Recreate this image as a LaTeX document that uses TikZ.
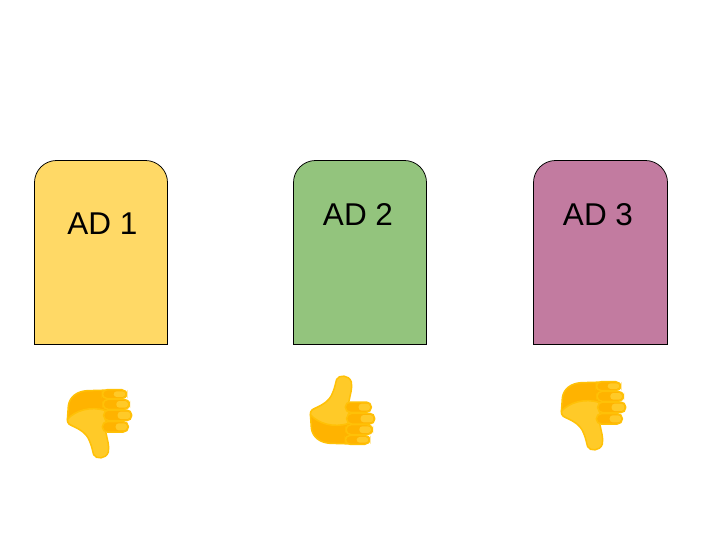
\documentclass[tikz,border=0pt]{standalone}
\usepackage{fontspec}
\setmainfont{Liberation Sans}
\usepackage{xcolor}
\definecolor{adyellow}{HTML}{FFD966}
\definecolor{adgreen}{HTML}{93C47D}
\definecolor{adpurple}{HTML}{C27BA0}
\definecolor{handlight}{HTML}{FFCA28}
\definecolor{handdark}{HTML}{FFB300}
\definecolor{handedge}{HTML}{FFC107}
\tikzset{
    ad-card/.style = {draw=black, line width=0.75pt},
    ad-label/.style = {font=\fontsize{31.5}{38}\selectfont, text=black, inner sep=0pt},
    hand-part/.style = {fill=handlight, draw=handedge, line width=1.5pt, line join=round},
    finger/.style = {fill=handdark, draw=handedge, line width=1.5pt, rounded corners=5pt},
    finger-tip/.style = {fill=handlight, rounded corners=3pt},
    thumb-up/.pic = {
        \begin{scope}[scale=0.3333, shift={(-159,-150)}]
            \draw[fill=handdark, draw=handedge, line width=1.5pt, line join=round] (75,145) .. controls (60,150) and (60,160) .. (62,175) -- (64,205) .. controls (68,232) and (90,248) .. (120,250) -- (190,252) -- (190,150) -- cycle;
            \draw[hand-part] (75,145) .. controls (95,135) and (118,125) .. (128,98) .. controls (135,82) and (136,70) .. (140,58) .. controls (146,44) and (178,44) .. (184,66) .. controls (188,85) and (180,105) .. (176,128) -- (176,190) .. controls (130,205) and (85,190) .. (62,165) .. controls (60,155) and (65,150) .. (75,145) -- cycle;
            \draw[finger] (166,126) rectangle (244,157);
            \draw[finger] (170,160) rectangle (254,192);
            \draw[finger] (168,194) rectangle (247,224);
            \draw[finger] (166,226) rectangle (239,253);
            \fill[finger-tip] (206,131) rectangle (240,152);
            \fill[finger-tip] (212,165) rectangle (250,187);
            \fill[finger-tip] (208,199) rectangle (243,219);
            \fill[finger-tip] (200,231) rectangle (235,248);
        \end{scope}
    },
}

\begin{document}
\begin{tikzpicture}[x=1pt, y=-1pt]
\useasboundingbox (0,0) rectangle (720,540);
% cards
\draw[ad-card, fill=adyellow] (34.5,344.5) [rounded corners=22pt] -- (34.5,160.5) -- (167.5,160.5) [sharp corners] -- (167.5,344.5) -- cycle;
\draw[ad-card, fill=adgreen] (293.5,344.5) [rounded corners=22pt] -- (293.5,160.5) -- (426.5,160.5) [sharp corners] -- (426.5,344.5) -- cycle;
\draw[ad-card, fill=adpurple] (533.5,344.5) [rounded corners=22pt] -- (533.5,160.5) -- (667.5,160.5) [sharp corners] -- (667.5,344.5) -- cycle;
\node[ad-label] (ad-one) at (102.5,223.5) {AD 1};
\node[ad-label] (ad-two) at (358,214.5) {AD 2};
\node[ad-label] (ad-three) at (598,214.5) {AD 3};
% thumbs
\pic[yscale=-1] (vote-one) at (100,424) {thumb-up};
\pic (vote-two) at (343,410) {thumb-up};
\pic[yscale=-1] (vote-three) at (594,416) {thumb-up};
\end{tikzpicture}
\end{document}
